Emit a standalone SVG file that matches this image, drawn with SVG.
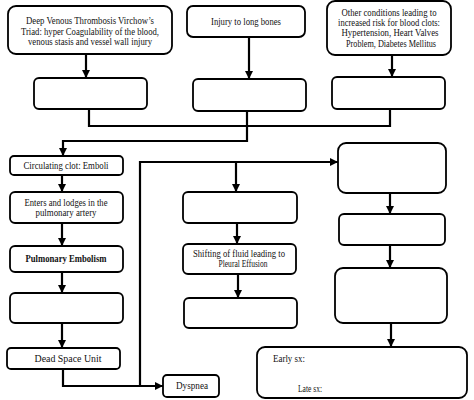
<svg xmlns="http://www.w3.org/2000/svg" width="474" height="400" viewBox="0 0 474 400">
<defs>
<style>
.box{fill:#fff;stroke:#000;stroke-width:1.8}
.t{font-family:"Liberation Serif","Times New Roman",serif;font-size:9.5px;fill:#111;text-anchor:middle}
.tl{font-family:"Liberation Serif","Times New Roman",serif;font-size:9.5px;fill:#111}
.b{font-weight:bold}
.c{fill:none;stroke:#000;stroke-width:2.2}
</style>
<marker id="ah" markerWidth="8" markerHeight="8" refX="8" refY="4" orient="auto" markerUnits="userSpaceOnUse"><path d="M0,0 L8,4 L0,8 Z" fill="#000"/></marker>
</defs>
<rect width="474" height="400" fill="#fff"/>
<g id="connectors">
<path class="c" d="M86,54 V78" marker-end="url(#ah)"/>
<path class="c" d="M249,37 V79" marker-end="url(#ah)"/>
<path class="c" d="M392,55 V77" marker-end="url(#ah)"/>
<path class="c" d="M89,109 V126 H390 V109"/>
<path class="c" d="M247,111 V141 H63 V156" marker-end="url(#ah)"/>
<path class="c" d="M62,175 V192" marker-end="url(#ah)"/>
<path class="c" d="M62,223 V246" marker-end="url(#ah)"/>
<path class="c" d="M62,272 V293" marker-end="url(#ah)"/>
<path class="c" d="M62,323 V348" marker-end="url(#ah)"/>
<path class="c" d="M63,369 V386 H163" marker-end="url(#ah)"/>
<path class="c" d="M140,386 V162 H338" marker-end="url(#ah)"/>
<path class="c" d="M236,162 V192" marker-end="url(#ah)"/>
<path class="c" d="M237,223 V244" marker-end="url(#ah)"/>
<path class="c" d="M238,274 V298" marker-end="url(#ah)"/>
<path class="c" d="M390,193 V214" marker-end="url(#ah)"/>
<path class="c" d="M390,245 V268" marker-end="url(#ah)"/>
<path class="c" d="M391,323 V347" marker-end="url(#ah)"/>
</g>
<g id="n1"><rect class="box" x="8" y="6" width="164" height="48" rx="8"/>
<text class="t" x="90" y="24" textLength="128" lengthAdjust="spacingAndGlyphs">Deep Venous Thrombosis Virchow’s</text>
<text class="t" x="90" y="35" textLength="138" lengthAdjust="spacingAndGlyphs">Triad: hyper Coagulability of the blood,</text>
<text class="t" x="90" y="45" textLength="124" lengthAdjust="spacingAndGlyphs">venous stasis and vessel wall injury</text></g>
<g id="n2"><rect class="box" x="187" y="6" width="118" height="31" rx="6"/>
<text class="t" x="246" y="25" textLength="70" lengthAdjust="spacingAndGlyphs">Injury to long bones</text></g>
<g id="n3"><rect class="box" x="327" y="1" width="124" height="54" rx="8"/>
<text class="t" x="389" y="16" textLength="95" lengthAdjust="spacingAndGlyphs">Other conditions leading to</text>
<text class="t" x="389" y="26" textLength="102" lengthAdjust="spacingAndGlyphs">increased risk for blood clots:</text>
<text class="t" x="390" y="36" textLength="97" lengthAdjust="spacingAndGlyphs">Hypertension, Heart Valves</text>
<text class="t" x="391" y="47" textLength="90" lengthAdjust="spacingAndGlyphs">Problem, Diabetes Mellitus</text></g>
<g id="n4"><rect class="box" x="34" y="78" width="113" height="31" rx="5"/></g>
<g id="n5"><rect class="box" x="193" y="79" width="113" height="32" rx="5"/></g>
<g id="n6"><rect class="box" x="332" y="77" width="113" height="32" rx="5"/></g>
<g id="n7"><rect class="box" x="10" y="156" width="113" height="19" rx="4"/>
<text class="t" x="66" y="169" textLength="85" lengthAdjust="spacingAndGlyphs">Circulating clot: Emboli</text></g>
<g id="n8"><rect class="box" x="10" y="192" width="113" height="31" rx="5"/>
<text class="t" x="66" y="206" textLength="83" lengthAdjust="spacingAndGlyphs">Enters and lodges in the</text>
<text class="t" x="66" y="216" textLength="61" lengthAdjust="spacingAndGlyphs">pulmonary artery</text></g>
<g id="n9"><rect class="box" x="10" y="246" width="113" height="26" rx="5"/>
<text class="t b" x="66" y="262" textLength="81" lengthAdjust="spacingAndGlyphs">Pulmonary Embolism</text></g>
<g id="n10"><rect class="box" x="10" y="293" width="113" height="30" rx="5"/></g>
<g id="n11"><rect class="box" x="7" y="348" width="113" height="21" rx="4"/>
<text class="t" x="68" y="362" textLength="67" lengthAdjust="spacingAndGlyphs">Dead Space Unit</text></g>
<g id="n12"><rect class="box" x="338" y="143" width="108" height="50" rx="8"/></g>
<g id="n13"><rect class="box" x="183" y="192" width="114" height="31" rx="5"/></g>
<g id="n14"><rect class="box" x="183" y="244" width="113" height="30" rx="5"/>
<text class="t" x="239" y="257" textLength="92" lengthAdjust="spacingAndGlyphs">Shifting of fluid leading to</text>
<text class="t" x="243" y="267" textLength="49" lengthAdjust="spacingAndGlyphs">Pleural Effusion</text></g>
<g id="n15"><rect class="box" x="184" y="298" width="113" height="30" rx="5"/></g>
<g id="n16"><rect class="box" x="339" y="214" width="106" height="31" rx="5"/></g>
<g id="n17"><rect class="box" x="335" y="268" width="112" height="55" rx="8"/></g>
<g id="n18"><rect class="box" x="257" y="347" width="210" height="51" rx="8"/>
<text class="tl" x="273" y="362" textLength="32" lengthAdjust="spacingAndGlyphs">Early sx:</text>
<text class="tl" x="298" y="392" textLength="24" lengthAdjust="spacingAndGlyphs">Late sx:</text></g>
<g id="n19"><rect class="box" x="163" y="375" width="56" height="22" rx="4"/>
<text class="t" x="192" y="389" textLength="32" lengthAdjust="spacingAndGlyphs">Dyspnea</text></g>
</svg>
